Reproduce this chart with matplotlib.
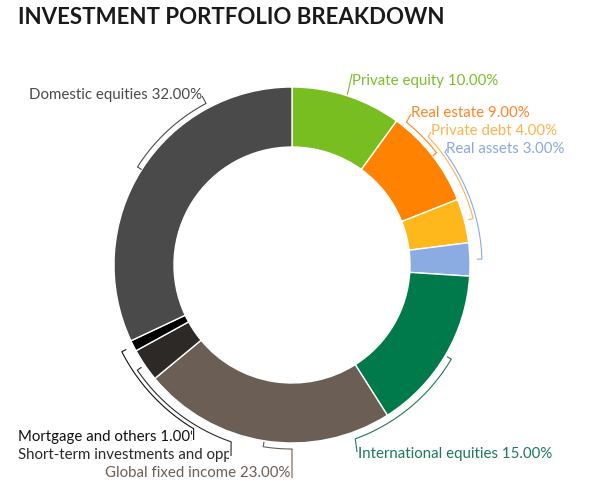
import numpy as np
import matplotlib
matplotlib.use("Agg")
import matplotlib.pyplot as plt
from matplotlib.patches import Rectangle

# ---------------- data ----------------
categories = ["Private equity", "Real estate", "Private debt", "Real assets",
              "International equities", "Global fixed income",
              "Short-term investments and opportunities", "Mortgage and others",
              "Domestic equities"]
values = [10, 9, 4, 3, 15, 23, 3, 1, 32]
colors = ["#78BE20", "#FF8200", "#FFB81C", "#8BACE3", "#007A4B",
          "#6B5E55", "#2D2926", "#000000", "#4A4A4A"]
label_colors = ["#7DBE2A", "#FF8426", "#FFB34A", "#8BA8E0", "#1E7A55",
                "#6B5E55", "#2D2926", "#111111", "#4A4A4A"]
title = "INVESTMENT PORTFOLIO BREAKDOWN"

# ---------------- figure ----------------
W, H = 591, 503
fig = plt.figure(figsize=(W / 100, H / 100), dpi=100)
ax = fig.add_axes([0, 0, 1, 1])

def P(x, y_top):
    """pixel coords measured from the top -> data coords"""
    return x, H - y_top

cx, cy = P(292, 265)
R = 178
ring = 60

ax.pie(values, colors=colors, startangle=90, counterclock=False,
       radius=R, center=(cx, cy),
       wedgeprops=dict(width=ring, edgecolor="white", linewidth=1.0))
ax.set_xlim(0, W)
ax.set_ylim(0, H)
ax.set_aspect("equal")
ax.axis("off")

vals = np.array(values, dtype=float)
cum = np.cumsum(vals)
mid = 90 - 360 * (cum - vals / 2) / vals.sum()
mid = (mid + 180) % 360 - 180

def polar(r, a):
    t = np.deg2rad(a)
    return cx + r * np.cos(t), cy + r * np.sin(t)

# layout: bracket radius, end angle near label, extra leader points, text pos, ha, clip
layout = [
    dict(rb=None, pts=[(352, 74)], txt=(352, 85), ha="left", clip=None),
    dict(rb=183, aend=51.3, pts=[(411, 114)], txt=(411, 116.7), ha="left", clip=None),
    dict(rb=187, aend=43.3, pts=[(431, 132)], txt=(431, 135), ha="left", clip=None),
    dict(rb=190, aend=36.4, pts=[(447, 149)], txt=(446, 152.7), ha="left", clip=None),
    dict(rb=185, aend=-70, pts=[(357, 452)], txt=(358, 458), ha="left", clip=None),
    dict(rb=184, aend=-90, pts=[(292, 478)], txt=(290, 476.7), ha="right", clip=None),
    dict(rb=187, aend=-109, pts=[(231, 456)], txt=(18, 459), ha="left", clip=229),
    dict(rb=191, aend=-121, pts=[(193.6, 440)], txt=(18, 441), ha="left", clip=192),
    dict(rb=183, aend=118, pts=[(202, 96)], txt=(29, 99.3), ha="left", clip=None),
]

FONT = ["Lato", "DejaVu Sans"]
lw = 0.8
texts = []
for i, (cat, v) in enumerate(zip(categories, values)):
    L = layout[i]
    col = label_colors[i]
    if L["rb"] is None:
        x0, y0 = polar(R + 1, mid[i])
        xs = [x0] + [P(*p)[0] for p in L["pts"]]
        ys = [y0] + [P(*p)[1] for p in L["pts"]]
    else:
        rb = L["rb"]
        a0 = mid[i]
        a1 = L["aend"]
        d = (a1 - a0 + 180) % 360 - 180
        a = np.linspace(a0, a0 + d, 60)
        tx, ty = polar(rb - 5, a0)
        ax_, ay_ = polar(rb, a)
        xs = [tx] + list(ax_) + [P(*p)[0] for p in L["pts"]]
        ys = [ty] + list(ay_) + [P(*p)[1] for p in L["pts"]]
    ax.plot(xs, ys, color=col, lw=lw, solid_capstyle="butt", zorder=3)
    tpx, tpy = P(*L["txt"])
    t = ax.text(tpx, tpy, f"{cat} {v:.2f}%", color=col, ha=L["ha"], va="baseline",
                family=FONT, fontsize=12)
    if L["clip"] is not None:
        rect = Rectangle((0, 0), L["clip"], H, transform=ax.transData)
        t.set_clip_path(rect)
        t.set_clip_on(True)
    texts.append(t)

tt = fig.text(18 / W, 1 - 24 / H, title, fontweight="bold", family=FONT,
              fontsize=18, color="#1A1A1A", va="baseline", ha="left")

# fit font sizes to measured widths
fig.canvas.draw()
r = fig.canvas.get_renderer()
w = tt.get_window_extent(r).width
tt.set_fontsize(18 * 428 / w)
w = texts[8].get_window_extent(r).width
fs = 12 * 172 / w
for t in texts:
    t.set_fontsize(fs)

fig.savefig("out.png", dpi=100, facecolor="white")
